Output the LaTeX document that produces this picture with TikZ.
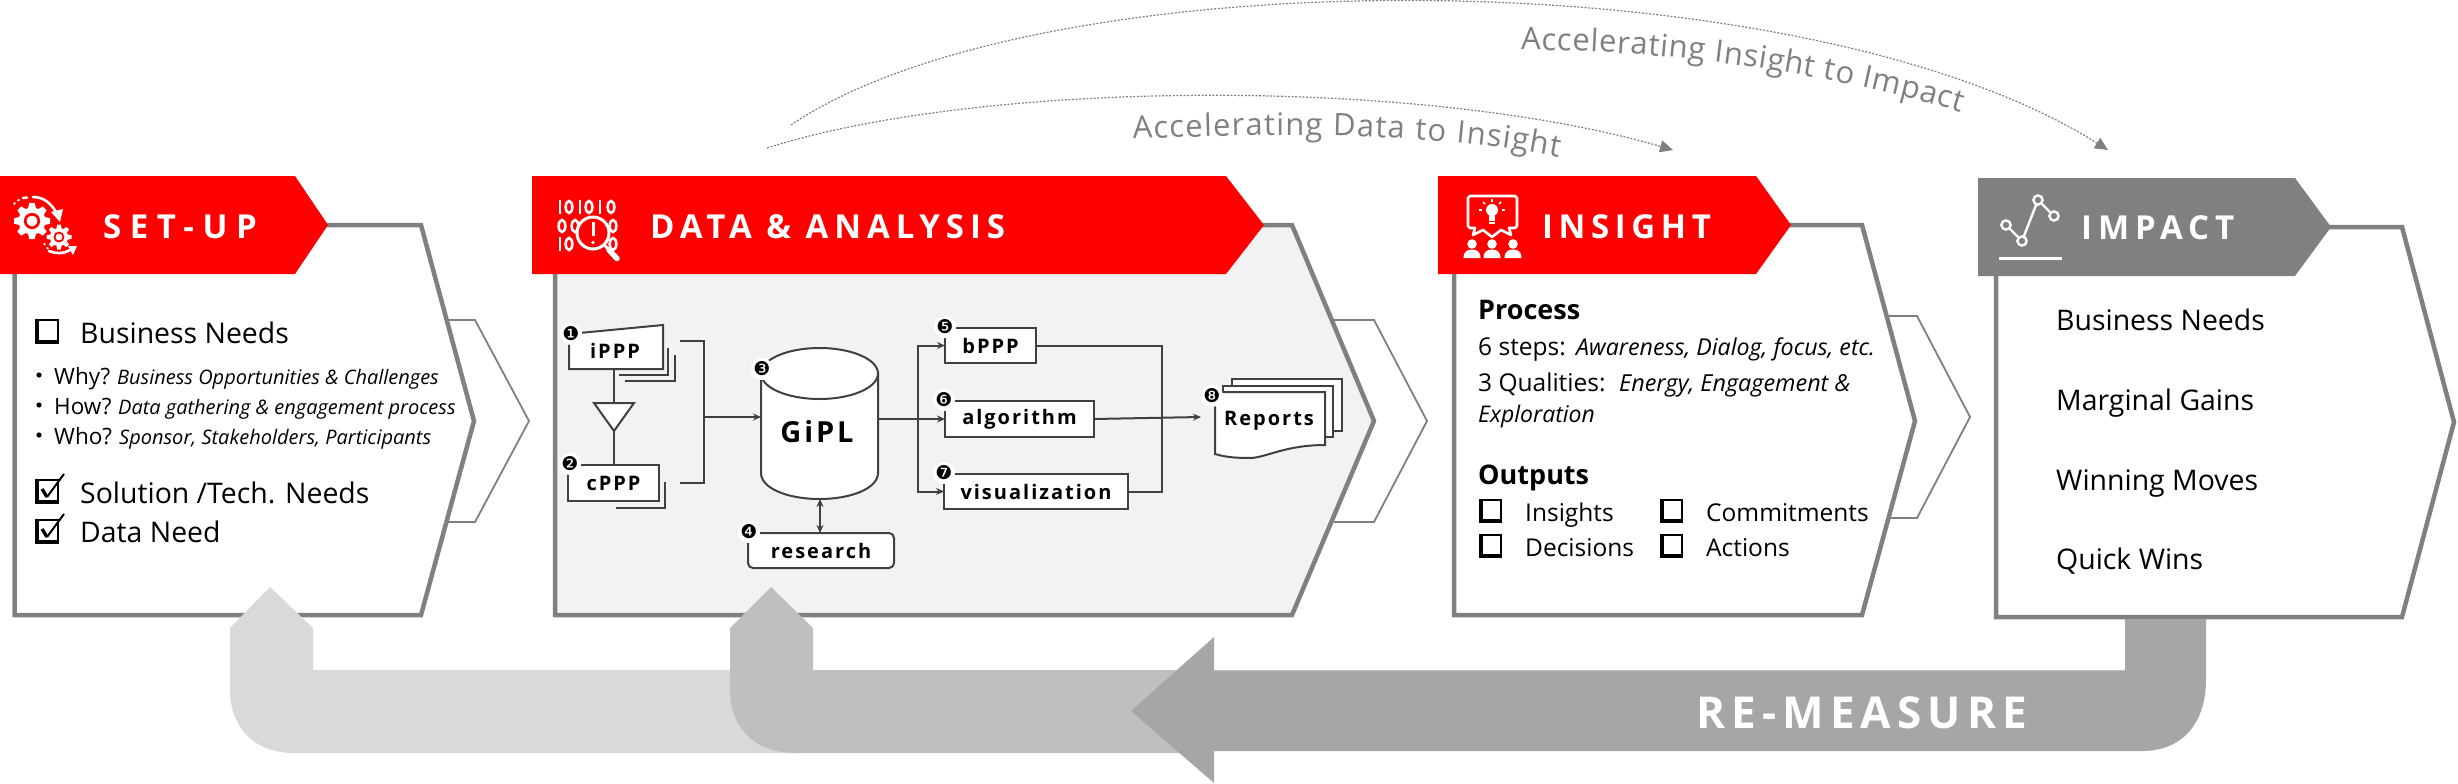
\documentclass[tikz,border=0pt]{standalone}
\usepackage{fontspec}
\usetikzlibrary{arrows.meta,decorations.text,calc}
\setmainfont{Open Sans}
\newfontfamily\hdfont{Open Sans}
\newfontfamily\bxfont[LetterSpace=10]{Open Sans}
\newfontfamily\rmfont[LetterSpace=14]{Open Sans}
\newfontfamily\bdgfont{DejaVu Sans}
\newcommand\fsz[1]{\fontsize{#1}{#1}\selectfont}
\newcommand\spc[1]{\addfontfeature{LetterSpace=#1}}
\definecolor{outl}{HTML}{808080}
\definecolor{ink}{HTML}{404040}
\definecolor{pale}{HTML}{F2F2F2}
\definecolor{arrL}{HTML}{D9D9D9}
\definecolor{arrM}{HTML}{BFBFBF}
\definecolor{arrD}{HTML}{A6A6A6}
\tikzset{
  x=1pt,y=-1pt,
  panel/.style={draw=outl,line width=4.5,line join=miter},
  chev/.style={draw=outl,line width=1.8},
  banner/.style={fill=red},
  hdr/.style={anchor=base west,inner sep=0,text=white,font=\hdfont\bfseries\fsz{33}},
  big/.style={anchor=base west,inner sep=0,font=\fsz{28.4}},
  mid/.style={anchor=base west,inner sep=0,font=\fsz{24.5}},
  sml/.style={anchor=base west,inner sep=0,font=\fsz{22.5}},
  ital/.style={anchor=base west,inner sep=0,font=\itshape\fsz{20}},
  itab/.style={anchor=base west,inner sep=0,font=\itshape\fsz{23}},
  lbl/.style={inner sep=0,font=\bxfont\bfseries\fsz{20}},
  wire/.style={draw=ink,line width=2},
  arr/.style={wire,-{Stealth[length=8,width=7]}},
  darr/.style={wire,{Stealth[length=8,width=7]}-{Stealth[length=8,width=7]}},
  fbox/.style={draw=ink,line width=2,fill=white,inner sep=0,outer sep=0,font=\bxfont\bfseries\fsz{20}},
  badge/.style={circle,fill=white,inner sep=0,minimum size=19,text=black,font=\bdgfont\fsz{19}},
  swoosh/.style={draw=outl,line width=1.2,dash pattern=on 2pt off 1.6pt,-{Triangle[length=13,width=12,fill=outl]}},
  ico/.style={draw=white,line width=2.6,line cap=round,line join=round},
}
\newcommand\boxmark[3]{%
  \draw[black,line width=2.4] (#1,#2) rectangle ++(#3,#3);
  \fill[black] (#1-1,#2+#3-2) rectangle ++(#3+2,4);
  \fill[black] (#1-1,#2) rectangle ++(3.5,#3);
}
\newcommand\tickmark[2]{%
  \draw[black,line width=3.2] (#1+6,#2+9) -- (#1+11,#2+17);
  \draw[black,line width=2] (#1+11,#2+17) -- (#1+28,#2-6);
}
\newcommand\gearshape[5]{% cx cy rbody router nteeth step
  \fill[white] (#1,#2) circle[radius=#3];
  \foreach \a in {0,#5,...,359}
    \fill[white,shift={(#1,#2)},rotate=\a] (-#3*.3,-#3+1) -- (-#3*.2,-#4) -- (#3*.2,-#4) -- (#3*.3,-#3+1) -- cycle;
  \draw[red,line width=#3*.2] (#1,#2) circle[radius=#3*.5];
}
\begin{document}
\begin{tikzpicture}
\useasboundingbox (0,0) rectangle (2458,784);
% thin chevrons
\draw[chev] (448,320) -- (475,320) -- (529,421) -- (475,522) -- (448,522);
\draw[chev] (1334,320) -- (1374,320) -- (1427,421) -- (1374,522) -- (1334,522);
\draw[chev] (1887,316) -- (1917,316) -- (1970,417) -- (1917,518) -- (1887,518);
% panels
\draw[panel] (14.5,225) -- (421,225) -- (474,421) -- (421,615) -- (14.5,615) -- cycle;
\draw[panel,fill=pale] (555,225) -- (1292,225) -- (1374,421) -- (1292,615) -- (555,615) -- cycle;
\draw[panel] (1454,225) -- (1862,225) -- (1915,421) -- (1862,615) -- (1454,615) -- cycle;
\draw[panel] (1996,227) -- (2402,227) -- (2454,422) -- (2402,617) -- (1996,617) -- cycle;
% banners
\fill[banner] (0,176) -- (295,176) -- (328,225) -- (295,274) -- (0,274) -- cycle;
\fill[banner] (532,176) -- (1226,176) -- (1264,225) -- (1226,274) -- (532,274) -- cycle;
\fill[banner] (1438,176) -- (1756,176) -- (1791,225) -- (1756,274) -- (1438,274) -- cycle;
\fill[fill=outl] (1978,178) -- (2295,178) -- (2331,227) -- (2295,276) -- (1978,276) -- cycle;
\node[hdr] (hsetup) at (103,238) {\spc{26}SET-UP};
\node[hdr] (hdata) at (650,238) {\spc{18}DATA \& ANALYSIS};
\node[hdr] (hinsight) at (1542,238) {\spc{17}INSIGHT};
\node[hdr] (himpact) at (2081,239) {\spc{18}IMPACT};
% gear icon
\gearshape{32}{221}{13.5}{18}{45}
\gearshape{59}{237}{9}{12.5}{45}
\draw[ico] (33,197) .. controls (44,197) and (52,204) .. (57,214);
\fill[white] (51,212) -- (63,209) -- (60,222) -- cycle;
\draw[ico] (23,198) -- (27,197.5);
\draw[ico,line width=2] (18,200.5) -- (19,200);
\draw[ico,line width=2] (14,204) -- (15,203);
\draw[ico] (49,251) .. controls (56,254) and (64,254) .. (70,250);
\fill[white] (68,246) -- (77,246) -- (73,255) -- cycle;
\draw[ico,line width=2] (44,244) -- (45,244.5);
\draw[ico,line width=2] (47,248) -- (48,248.5);
% data icon
\foreach \x in {560,580,600} \draw[ico,line cap=butt] (\x,200) -- (\x,214);
\draw[ico,line cap=butt] (560,237) -- (560,251);
\foreach \x/\y in {569/207,589/207,611/207,562/226,575/226,613/226,569/244,613/244}
  \draw[white,line width=2.6] (\x,\y) ellipse[x radius=3.3,y radius=6];
\draw[white,line width=3,fill=red] (593,233) circle[radius=16];
\draw[white,line width=3] (604.5,245) -- (609,250);
\draw[white,line width=5.5,line cap=round] (609,250) -- (617,258.5);
\draw[white,line width=3] (593,222) -- (593,236);
\fill[white] (593,242.5) circle[radius=1.9];
% insight icon
\draw[ico] (1470,196) -- (1515,196) -- (1517,198) -- (1517,226) -- (1515,228) -- (1509,228) -- (1511,235) -- (1501,230) -- (1492,237) -- (1483,230) -- (1473,235) -- (1475,228) -- (1470,228) -- (1468,226) -- (1468,198) -- cycle;
\fill[white] (1492,210) circle[radius=6];
\fill[white] (1489,214) rectangle (1495,221);
\draw[white,line width=1.5] (1489,223) -- (1495,223);
\draw[white,line width=1.5] (1492,199) -- (1492,202);
\draw[white,line width=1.5] (1483,202) -- (1485,204);
\draw[white,line width=1.5] (1501,202) -- (1499,204);
\draw[white,line width=1.5] (1479,210) -- (1482,210);
\draw[white,line width=1.5] (1502,210) -- (1505,210);
\foreach \x in {1472,1492,1513} {
  \fill[white] (\x,244) circle[radius=4.8];
  \fill[white] (\x-8.5,258) .. controls (\x-8.5,251) and (\x-4,249.5) .. (\x,249.5) .. controls (\x+4,249.5) and (\x+8.5,251) .. (\x+8.5,258) -- cycle;
}
% impact icon
\draw[white,line width=2.4] (2006,225) -- (2022,241) -- (2038,200) -- (2054,216);
\foreach \x/\y in {2006/225,2022/241,2038/200,2054/216}
  \draw[white,line width=2.4,fill=outl] (\x,\y) circle[radius=4.6];
\draw[white,line width=3] (1999,258) -- (2062,258);
% setup text
\boxmark{36}{320}{22}
\node[big] (t1) at (80,343) {Business Needs};
\foreach \y in {375,405,435} \fill[black] (39,\y) circle[radius=2.6];
\node[sml] (why) at (54,384) {Why?};
\node[ital] (whyi) at (117,384) {Business Opportunities \& Challenges};
\node[sml] (how) at (54,414) {How?};
\node[ital] (howi) at (118,414) {Data gathering \& engagement process};
\node[sml] (who) at (54,444) {Who?};
\node[ital] (whoi) at (119,444) {Sponsor, Stakeholders, Participants};
\boxmark{36}{480}{22}\tickmark{36}{480}
\node[big] (t2) at (80,503) {Solution /Tech. Needs};
\boxmark{36}{520}{22}\tickmark{36}{520}
\node[big] (t3) at (80,542) {Data Need};
% insight text
\node[big,font=\bfseries\fsz{27}] (p1) at (1478,319) {Process};
\node[mid] (p2) at (1478,355) {6 steps:};
\node[itab,font=\itshape\fsz{23.2}] (p2i) at (1576,355) {Awareness, Dialog, focus, etc.};
\node[mid] (p3) at (1478,391) {3 Qualities:};
\node[itab,font=\itshape\fsz{23.4}] (p3i) at (1619,391) {Energy, Engagement \&};
\node[itab] (p4) at (1478,422) {Exploration};
\node[big,font=\bfseries\fsz{27}] (o1) at (1478,484) {Outputs};
\boxmark{1480}{500}{21}
\boxmark{1661}{500}{21}
\boxmark{1480}{535}{21}
\boxmark{1661}{535}{21}
\node[mid] (o2) at (1525,521) {Insights};
\node[mid] (o3) at (1706,521) {Commitments};
\node[mid] (o4) at (1525,556) {Decisions};
\node[mid] (o5) at (1706,556) {Actions};
% impact text
\node[big] (i1) at (2056,330) {Business Needs};
\node[big] (i2) at (2056,410) {Marginal Gains};
\node[big] (i3) at (2056,490) {Winning Moves};
\node[big] (i4) at (2056,569) {Quick Wins};
% flow: left stack
\draw[wire] (668,348) -- (668,375) -- (619,375);
\draw[wire] (675,355) -- (675,381) -- (625,381);
\draw[wire,fill=white] (569,334) -- (663,325) -- (663,369) -- (569,369) -- cycle;
\node[lbl] (ippp) at (615,351) {iPPP};
\coordinate (ipppb) at (614,369);
\draw[wire,fill=white] (594,403) -- (634,403) -- (614,431) -- cycle;
\coordinate (tritop) at (614,403);
\coordinate (tribot) at (614,431);
\draw[wire] (665,482) -- (665,508) -- (616,508);
\node[fbox,minimum width=91,minimum height=36] (cppp) at (613.5,483) {cPPP};
\draw[wire] (ipppb) -- (tritop);
\draw[wire] (tribot) -- (cppp.north -| tribot);
\coordinate (b1) at (680,341);
\coordinate (b2) at (680,483);
\coordinate (bj) at (704,417);
\draw[wire] (b1) -- (704,341) -- (704,483) -- (b2);
% cylinder
\draw[wire,fill=white] (761,373.5) -- (761,473) .. controls (761,488) and (787,499) .. (819.5,499) .. controls (852,499) and (878,488) .. (878,473) -- (878,373.5) -- cycle;
\draw[wire,fill=white] (819.5,373.5) ellipse[x radius=58.5,y radius=25.5];
\node[inner sep=0,font=\bxfont\bfseries\fsz{29}] (gipl) at (817,432) {GiPL};
\coordinate (gw) at (761,417);
\coordinate (ge) at (878,419);
\coordinate (gs) at (820,499);
\draw[arr] (bj) -- (gw);
\node[fbox,rounded corners=5,minimum width=146,minimum height=35] (research) at (821,550.5) {research};
\draw[darr] (gs) -- (gs |- research.north);
% analysis boxes
\node[fbox,minimum width=91,minimum height=35] (bppp) at (990.5,345.5) {bPPP};
\node[fbox,minimum width=149,minimum height=36] (algo) at (1019.5,419) {algorithm};
\node[fbox,minimum width=184,minimum height=35] (vis) at (1036,491.5) {visualization};
\coordinate (fork) at (917.5,419);
\draw[wire] (ge) -- (fork);
\draw[arr] (fork) -- (algo.west);
\draw[arr] (fork) -- (917.5,345.5) -- (bppp.west);
\draw[arr] (fork) -- (917.5,491.5) -- (vis.west);
\draw[wire] (bppp.east) -- (1161.5,345.5) -- (1161.5,491.5) -- (vis.east);
% reports
\draw[wire,fill=white] (1232,386) -- (1232,379) -- (1342,379) -- (1342,431) -- (1332,431);
\draw[wire,fill=white] (1223,392) -- (1223,386) -- (1332.5,386) -- (1332.5,437) -- (1325,437);
\draw[wire,fill=white] (1215,392) -- (1325,392) -- (1325,445) .. controls (1285,445) and (1265,458) .. (1250,458) .. controls (1235,458) and (1225,457) .. (1215,454) -- cycle;
\node[inner sep=0,font=\bxfont\bfseries\fsz{20}] (reports) at (1269,421) {Reports};
\coordinate (repw) at (1201,417);
\draw[arr] (algo.east) -- (repw);
% badges
\node[badge] (n1) at (571,334) {❶};
\node[badge] (n2) at (570,464) {❷};
\node[badge] (n3) at (762,369) {❸};
\node[badge] (n4) at (749,532) {❹};
\node[badge] (n5) at (945,327) {❺};
\node[badge] (n6) at (944,400) {❻};
\node[badge] (n7) at (944,473) {❼};
\node[badge] (n8) at (1212,396) {❽};
% bottom arrows
\fill[arrL] (270,587) -- (313,628) -- (313,670) -- (760,670) -- (800,753) -- (294,753) .. controls (252,753) and (230,725) .. (230,690) -- (230,628) -- cycle;
\fill[arrM] (771,587) -- (813,628) -- (813,670) -- (1190,670) -- (1190,753) -- (796,753) .. controls (752,753) and (730,725) .. (730,690) -- (730,628) -- cycle;
\draw[arrM,line width=1] (1214,670.5) -- (2125,670.5);
\fill[arrD] (1131,711) -- (1214,637) -- (1214,671) -- (2125,671) -- (2125,619) -- (2206,619) -- (2206,680) .. controls (2206,720) and (2185,751) .. (2142,751) -- (1214,751) -- (1214,783) -- cycle;
\node[anchor=base west,inner sep=0,text=white,font=\rmfont\bfseries\fsz{44}] (rem) at (1696,728) {RE-MEASURE};
% swooshes
\coordinate (s1a) at (767,148);
\coordinate (s1b) at (1673,150);
\coordinate (s2a) at (791,125);
\coordinate (s2b) at (2108,150);
\draw[swoosh] (s1a) .. controls (980,80) and (1417,76) .. (s1b);
\draw[swoosh] (s2a) .. controls (1040,-44) and (1800,-44) .. (s2b);
\path[decorate,decoration={text along path,text align={fit to path},
  text={|\fsz{31}\color{outl}|Accelerating Data to Insight}}]
  (1133,139) .. controls (1260,134) and (1420,130) .. (1559,157);
\path[decorate,decoration={text along path,text align={fit to path},
  text={|\fsz{31}\color{outl}|Accelerating Insight to Impact}}]
  (1521,50) .. controls (1640,50) and (1800,65) .. (1961,112);
\end{tikzpicture}
\end{document}
